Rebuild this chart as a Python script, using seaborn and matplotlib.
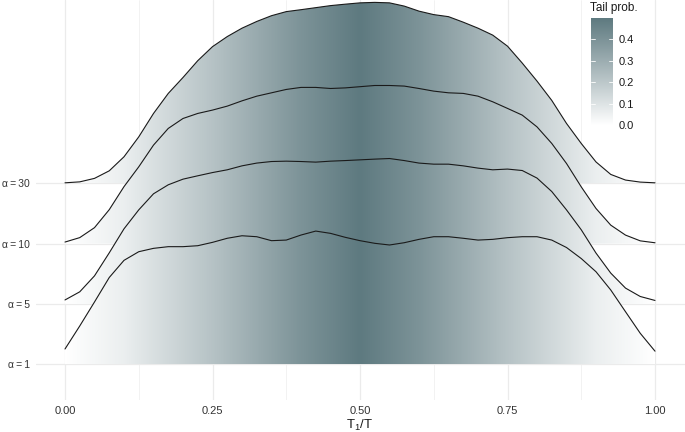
import numpy as np
import pandas as pd
import matplotlib
matplotlib.use("Agg")
import matplotlib.pyplot as plt
import seaborn as sns
from matplotlib.colors import ListedColormap, Normalize
from matplotlib.patches import Polygon

# ---------------- data ----------------
t_grid = [0.000, 0.025, 0.050, 0.075, 0.100, 0.125, 0.150, 0.175, 0.200, 0.225,
          0.250, 0.275, 0.300, 0.325, 0.350, 0.375, 0.400, 0.425, 0.450, 0.475,
          0.500, 0.525, 0.550, 0.575, 0.600, 0.625, 0.650, 0.675, 0.700, 0.725,
          0.750, 0.775, 0.800, 0.825, 0.850, 0.875, 0.900, 0.925, 0.950, 0.975, 1.000]

dens_a1 = [0.125, 0.317, 0.517, 0.721, 0.864, 0.936, 0.964, 0.978, 0.978, 0.986,
           1.014, 1.048, 1.069, 1.061, 1.028, 1.033, 1.075, 1.108, 1.089, 1.056,
           1.028, 1.006, 0.992, 1.011, 1.039, 1.061, 1.061, 1.048, 1.033, 1.039,
           1.053, 1.061, 1.061, 1.033, 0.971, 0.879, 0.769, 0.617, 0.436, 0.256, 0.107]

dens_a5 = [0.032, 0.100, 0.233, 0.425, 0.625, 0.783, 0.917, 0.992, 1.039, 1.067,
           1.094, 1.117, 1.150, 1.173, 1.186, 1.189, 1.186, 1.181, 1.189, 1.194,
           1.200, 1.206, 1.211, 1.194, 1.173, 1.164, 1.164, 1.150, 1.131, 1.117,
           1.123, 1.111, 1.048, 0.936, 0.783, 0.617, 0.423, 0.256, 0.131, 0.061, 0.028]

dens_a10 = [0.013, 0.050, 0.133, 0.283, 0.475, 0.640, 0.821, 0.960, 1.043, 1.085,
            1.113, 1.146, 1.190, 1.229, 1.257, 1.285, 1.302, 1.302, 1.293, 1.298,
            1.308, 1.318, 1.318, 1.313, 1.293, 1.271, 1.257, 1.252, 1.229, 1.182,
            1.127, 1.071, 0.973, 0.835, 0.668, 0.473, 0.293, 0.154, 0.071, 0.023, 0.007]

dens_a30 = [0.005, 0.013, 0.042, 0.105, 0.222, 0.388, 0.583, 0.750, 0.883, 1.023,
            1.140, 1.224, 1.294, 1.350, 1.398, 1.432, 1.448, 1.465, 1.482, 1.494,
            1.505, 1.509, 1.505, 1.478, 1.436, 1.407, 1.390, 1.344, 1.294, 1.236,
            1.144, 1.003, 0.853, 0.692, 0.500, 0.333, 0.179, 0.075, 0.028, 0.011, 0.005]

ridge_labels = ["\u03b1\u2009=\u20091", "\u03b1\u2009=\u20095",
                "\u03b1\u2009=\u200910", "\u03b1\u2009=\u200930"]

# tail probability as a function of T1/T (colour scale), read from the shading
tail_x = [0.0, 0.1, 0.25, 0.4, 0.5, 0.6, 0.75, 0.9, 1.0]
tail_p = [0.0, 0.06, 0.22, 0.40, 0.5, 0.40, 0.22, 0.06, 0.0]

x_ticks = [0.0, 0.25, 0.5, 0.75, 1.0]
x_ticklabels = ["0.00", "0.25", "0.50", "0.75", "1.00"]
cbar_ticks = [0.0, 0.1, 0.2, 0.3, 0.4]
cbar_ticklabels = ["0.0", "0.1", "0.2", "0.3", "0.4"]

LOW_COL = "#ffffff"
HIGH_COL = "#5e7a80"


# ---------------- colour scale interpolated in CIE Lab (like ggplot2) ----------------
def _hex_rgb(h):
    h = h.lstrip("#")
    return np.array([int(h[i:i + 2], 16) for i in (0, 2, 4)]) / 255.0


def _srgb_to_lab(rgb):
    c = np.where(rgb <= 0.04045, rgb / 12.92, ((rgb + 0.055) / 1.055) ** 2.4)
    M = np.array([[0.4124, 0.3576, 0.1805],
                  [0.2126, 0.7152, 0.0722],
                  [0.0193, 0.1192, 0.9505]])
    xyz = M @ c / np.array([0.95047, 1.0, 1.08883])
    f = np.where(xyz > 0.008856, np.cbrt(xyz), 7.787 * xyz + 16 / 116)
    return np.array([116 * f[1] - 16, 500 * (f[0] - f[1]), 200 * (f[1] - f[2])])


def _lab_to_srgb(lab):
    L, a, b = lab
    fy = (L + 16) / 116
    fx = fy + a / 500
    fz = fy - b / 200
    f = np.array([fx, fy, fz])
    xyz = np.where(f ** 3 > 0.008856, f ** 3, (f - 16 / 116) / 7.787)
    xyz = xyz * np.array([0.95047, 1.0, 1.08883])
    Minv = np.array([[3.2406, -1.5372, -0.4986],
                     [-0.9689, 1.8758, 0.0415],
                     [0.0557, -0.2040, 1.0570]])
    c = Minv @ xyz
    rgb = np.where(c <= 0.0031308, 12.92 * c, 1.055 * np.clip(c, 0, None) ** (1 / 2.4) - 0.055)
    return np.clip(rgb, 0, 1)


lab_lo = _srgb_to_lab(_hex_rgb(LOW_COL))
lab_hi = _srgb_to_lab(_hex_rgb(HIGH_COL))
cols = [_lab_to_srgb(lab_lo + (lab_hi - lab_lo) * f) for f in np.linspace(0, 1, 256)]
cmap = ListedColormap(cols)
norm = Normalize(vmin=0.0, vmax=0.5)

# ---------------- style ----------------
sns.set_theme(style="white")
plt.rcParams["font.family"] = ["Liberation Sans", "DejaVu Sans"]
plt.rcParams["mathtext.fontset"] = "custom"
plt.rcParams["mathtext.rm"] = "Liberation Sans"
plt.rcParams["mathtext.it"] = "Liberation Sans"
plt.rcParams["mathtext.default"] = "regular"

W, H = 685, 432
fig = plt.figure(figsize=(W / 100, H / 100), dpi=100)
fig.patch.set_facecolor("white")
ax = fig.add_axes([35.5 / W, 32 / H, 649 / W, 400 / H])
ax.set_facecolor("white")

SCALE = 1.993  # ridge overlap scale
t_arr = np.asarray(t_grid)
all_dens = [dens_a1, dens_a5, dens_a10, dens_a30]

xs = np.linspace(0, 1, 800)
grad = np.interp(xs, tail_x, tail_p)[None, :]

# draw back (top) ridge first, front (bottom) ridge last
for k in range(len(all_dens) - 1, -1, -1):
    base = k
    top = base + SCALE * np.asarray(all_dens[k])
    verts = list(zip(t_arr, top)) + [(1.0, base), (0.0, base)]
    patch = Polygon(verts, closed=True, facecolor="none", edgecolor="none",
                    transform=ax.transData)
    ax.add_patch(patch)
    im = ax.imshow(grad, extent=[0, 1, base, top.max() + 0.05], aspect="auto",
                   origin="lower", cmap=cmap, norm=norm, interpolation="bilinear",
                   zorder=1 + 2 * (3 - k))
    im.set_clip_path(patch)
    df = pd.DataFrame({"x": t_arr, "y": top})
    sns.lineplot(data=df, x="x", y="y", ax=ax, color="#1a1a1a", linewidth=0.8,
                 sort=False, zorder=2 + 2 * (3 - k))

ax.set_xlim(-0.05, 1.05)
ax.set_ylim(-0.598, 6.047)

# grid
ax.set_axisbelow(True)
ax.set_xticks(x_ticks)
ax.set_xticklabels(x_ticklabels)
ax.set_xticks([0.125, 0.375, 0.625, 0.875], minor=True)
ax.set_yticks([0, 1, 2, 3])
ax.set_yticklabels(ridge_labels)
ax.grid(which="major", color="#EBEBEB", linewidth=0.9)
ax.grid(which="minor", axis="x", color="#EBEBEB", linewidth=0.45)
for s in ax.spines.values():
    s.set_visible(False)
ax.tick_params(axis="both", which="both", length=0, colors="#333333")
ax.tick_params(axis="x", pad=4, labelsize=8)
ax.tick_params(axis="y", pad=4, labelsize=7.5)
ax.set_xlabel("T$_1$/T", fontsize=9.5, color="#1a1a1a", labelpad=2)
ax.set_ylabel("")

# colour bar legend
cax = fig.add_axes([591 / W, (H - 125) / H, 22 / W, 107 / H])
cgrad = np.linspace(0, 0.5, 256)[:, None]
cax.imshow(cgrad, extent=[0, 1, 0, 0.5], aspect="auto", origin="lower",
           cmap=cmap, norm=norm)
for v in cbar_ticks:
    cax.plot([0, 0.2], [v, v], color="white", linewidth=0.6)
    cax.plot([0.8, 1.0], [v, v], color="white", linewidth=0.6)
cax.set_xlim(0, 1)
cax.set_ylim(0, 0.5)
cax.set_xticks([])
cax.yaxis.tick_right()
cax.set_yticks(cbar_ticks)
cax.set_yticklabels(cbar_ticklabels)
cax.tick_params(axis="y", length=0, pad=4, labelsize=8, colors="#1a1a1a")
for s in cax.spines.values():
    s.set_visible(False)
fig.text(590 / W, 1 - 8 / H, "Tail prob.", ha="left", va="center",
         fontsize=8.5, color="#1a1a1a")

fig.savefig("out.png", dpi=100, facecolor="white")
